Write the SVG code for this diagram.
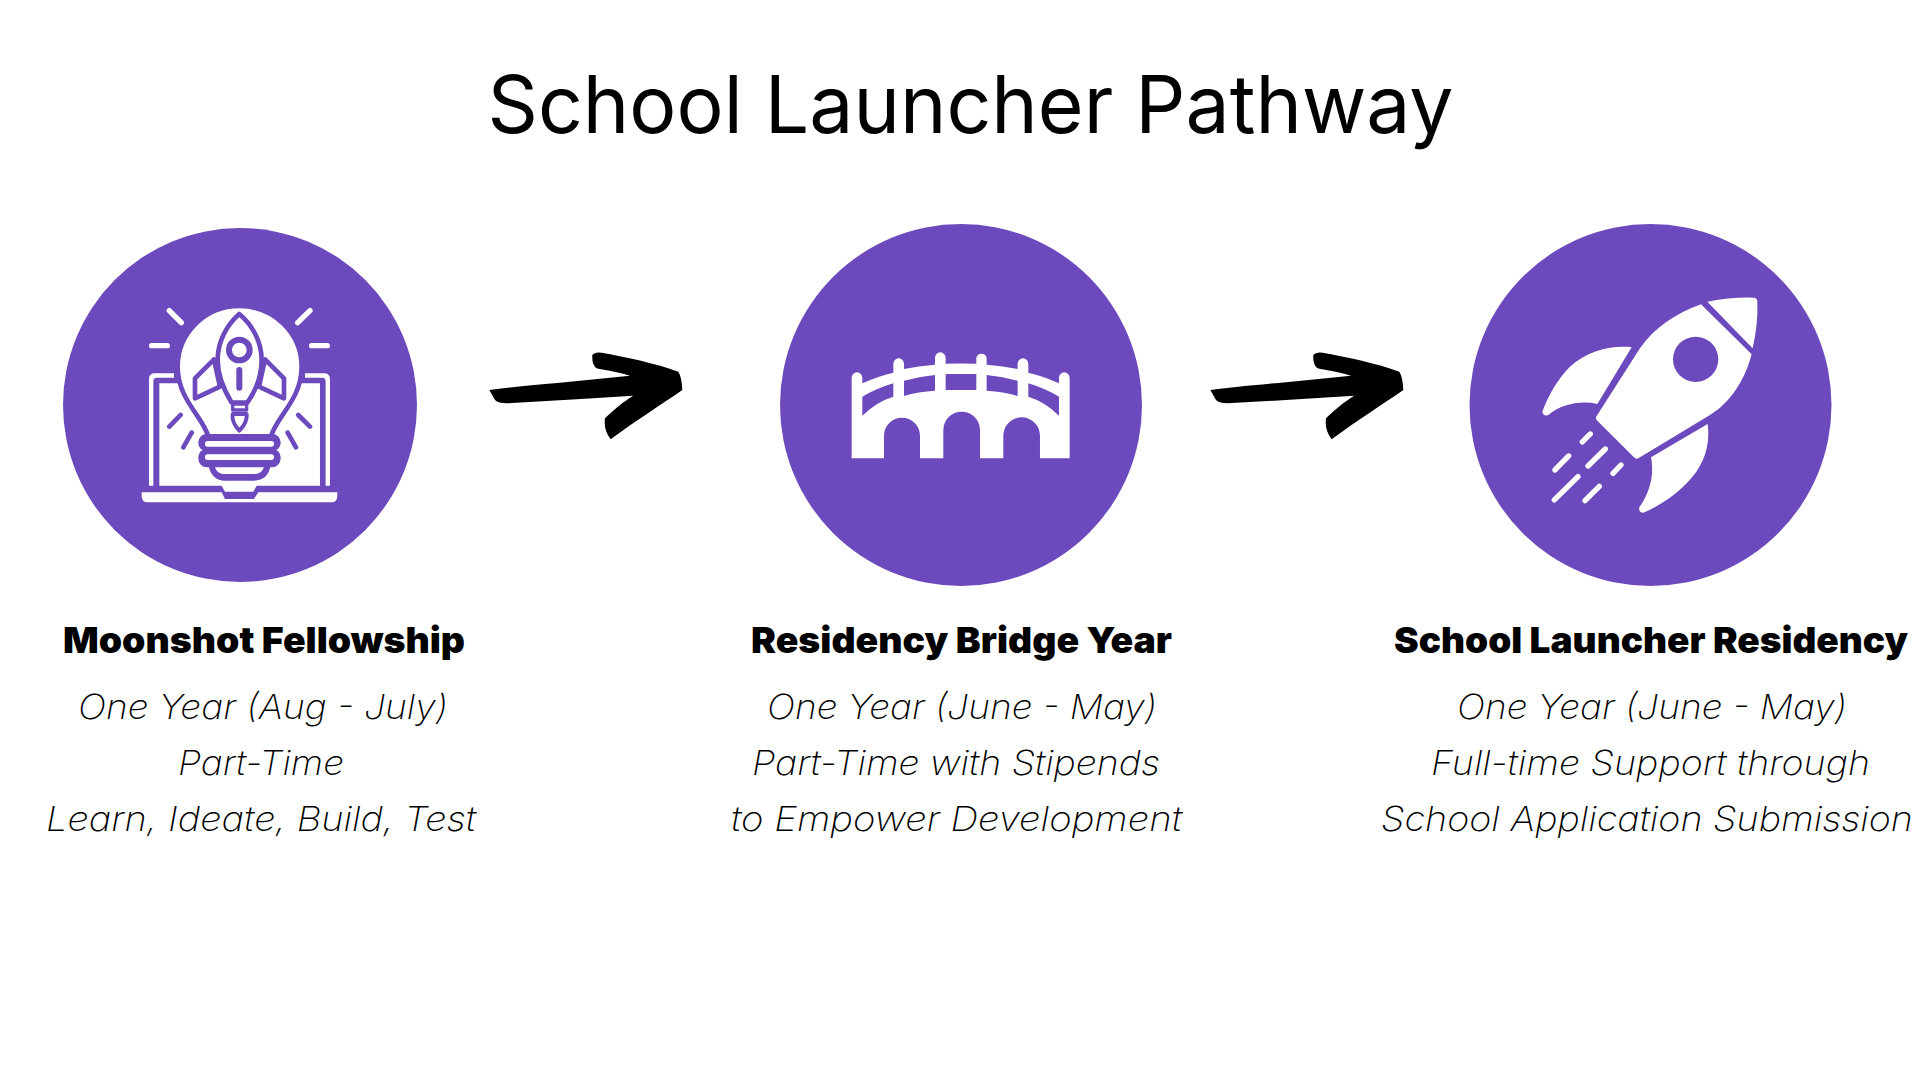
<svg xmlns="http://www.w3.org/2000/svg" width="1920" height="1080" viewBox="0 0 1920 1080">
<style>
.disc{fill:#6c4abd}
.w{fill:#fff}
.p{fill:#6c4abd}
.bs{fill:#fff;stroke:#6c4abd;stroke-linejoin:round}
.pl{fill:none;stroke:#6c4abd;stroke-linecap:round}
.wl{fill:none;stroke:#fff;stroke-linecap:round}
text{fill:#000;font-family:"Inter","Liberation Sans",sans-serif}
.title{font-size:80px;font-weight:400}
.head{font-size:36px;font-weight:900}
.sub{font-size:34.500px;font-weight:200;font-style:italic}
</style>
<defs>
<path id="arrow" d="M28 150Q100 140 240 128L450 107C410 95 370 90 350 85Q335 75 337 45Q345 35 365 38C430 50 530 70 595 95Q605 110 607 150C550 190 470 240 392 298Q370 270 375 235C400 210 430 185 460 167L290 178L80 190Q55 190 45 180Z"/>
</defs>
<rect width="1920" height="1080" fill="#fff"/>
<text class="title" x="487.500" y="133" textLength="966" lengthAdjust="spacingAndGlyphs">School Launcher Pathway</text>

<g id="connectors">
<use href="#arrow" transform="translate(480 340) scale(.3333)"/>
<use href="#arrow" transform="translate(1201 340) scale(.3333)"/>
</g>

<g id="node-moonshot">
<circle class="disc" cx="240" cy="405" r="177"/>
<g transform="translate(40 210) scale(.3333)">
<path class="w" d="M402 490H345Q327 490 327 508V827H340V515Q340 503 350 503H402ZM795 490H852Q870 490 870 508V827H857V515Q857 503 847 503H795Z"/>
<path class="w" d="M358 520H840V827H650L640 845H555L545 827H358Z"/>
<path class="w" d="M305 847H545L555 867H642L655 847H892V860Q890 877 875 877H322Q307 877 305 860Z"/>
<path class="bs" stroke-width="14" d="M505 680C490 620 413 570 413 470C413 370 495 288 598 288C702 288 785 370 785 470C785 570 708 620 693 680Z"/>
<rect class="p" x="475" y="672" width="247" height="52" rx="25"/>
<rect class="p" x="475" y="716" width="247" height="56" rx="26"/>
<path class="p" d="M505 765H692Q685 812 640 812H555Q515 812 505 765Z"/>
<rect class="w" x="495" y="693" width="207" height="17" rx="8"/>
<rect class="w" x="495" y="733" width="207" height="17" rx="8"/>
<path class="w" d="M525 772H672Q665 792 645 792H550Q532 792 525 772Z"/>
<path class="wl" stroke-width="16" d="M388 302L424 338M810 302L773 338M335 407H382M815 407H862"/>
<path class="pl" stroke-width="14" d="M422 615L388 650M455 668L430 712M775 615L810 650M743 668L768 712"/>
<path class="bs" stroke-width="14" d="M522 448L465 505V565L540 530ZM675 448L732 505V565L657 530Z"/>
<path class="bs" stroke-width="14" d="M598 312C560 345 533 395 533 450C533 500 555 545 575 578H622C645 545 665 500 665 450C665 395 637 345 598 312Z"/>
<circle class="bs" cx="598" cy="420" r="31" stroke-width="18"/>
<path class="pl" stroke-width="18" d="M598 480V533"/>
<rect class="bs" x="578" y="582" width="42" height="18" stroke-width="10"/>
<path class="bs" stroke-width="12" d="M578 612H620C622 630 610 650 598 662C586 650 575 630 578 612Z"/>
</g>
</g>

<g id="node-bridge">
<circle class="disc" cx="961" cy="405" r="181"/>
<g transform="translate(780 220) scale(.3333)">
<path class="w" d="M215 715V473A16 16 0 0 1 247 473V490Q290 470 340 458V431A16 16 0 0 1 372 431V447Q415 438 465 434V413A16 16 0 0 1 497 413V431Q545 430 589 431V413A16 16 0 0 1 620 413V434Q670 438 713 447V431A16 16 0 0 1 745 431V458Q795 470 837 490V473A16 16 0 0 1 869 473V715Z"/>
<path class="p" d="M247 530Q290 505 340 490V530Q290 545 247 587ZM372 482Q415 470 465 465V512Q415 515 372 528ZM497 462H589V510H497ZM620 465Q670 470 713 482V528Q670 515 620 512ZM745 490Q795 505 837 530V587Q795 545 745 530Z"/>
<path class="p" d="M312 718V647A54 54 0 0 1 420 647V718ZM490 718V630A55 55 0 0 1 600 630V718ZM670 718V647A55 55 0 0 1 780 647V718Z"/>
</g>
</g>

<g id="node-rocket">
<circle class="disc" cx="1650.500" cy="405" r="181"/>
<g transform="translate(1470 220) scale(.3333)">
<path class="w" d="M712 245Q790 230 853 233Q862 235 862 245Q865 310 848 385Z"/>
<path class="w" d="M693 253L845 403C825 480 780 550 720 585L505 715Q498 718 492 712L382 602Q375 595 380 588L510 385C555 320 620 280 693 253Z"/>
<circle class="p" cx="677" cy="418" r="68"/>
<path class="w" d="M485 382C420 375 350 395 300 440C265 475 235 525 217 575Q220 590 235 585C270 555 330 540 382 552Z"/>
<path class="w" d="M713 612C722 680 700 740 650 790C610 830 565 860 520 878Q505 878 508 862C535 825 555 770 543 712Z"/>
<path class="wl" stroke-width="16" d="M337 666L361 642M255 750L296 708M354 738L406 687M429 760L453 735M253 840L324 770M345 842L388 799"/>
</g>
</g>

<g id="label-moonshot">
<text class="head" x="63" y="653" textLength="402" lengthAdjust="spacingAndGlyphs">Moonshot Fellowship</text>
<text class="sub" x="78" y="719" textLength="370" lengthAdjust="spacingAndGlyphs">One Year (Aug - July)</text>
<text class="sub" x="178" y="775" textLength="166" lengthAdjust="spacingAndGlyphs">Part-Time</text>
<text class="sub" x="46" y="831" textLength="430" lengthAdjust="spacingAndGlyphs">Learn, Ideate, Build, Test</text>
</g>
<g id="label-bridge">
<text class="head" x="751" y="653" textLength="421" lengthAdjust="spacingAndGlyphs">Residency Bridge Year</text>
<text class="sub" x="767" y="719" textLength="390" lengthAdjust="spacingAndGlyphs">One Year (June - May)</text>
<text class="sub" x="752" y="775" textLength="408" lengthAdjust="spacingAndGlyphs">Part-Time with Stipends</text>
<text class="sub" x="731" y="831" textLength="451" lengthAdjust="spacingAndGlyphs">to Empower Development</text>
</g>
<g id="label-residency">
<text class="head" x="1394" y="653" textLength="514" lengthAdjust="spacingAndGlyphs">School Launcher Residency</text>
<text class="sub" x="1457" y="719" textLength="390" lengthAdjust="spacingAndGlyphs">One Year (June - May)</text>
<text class="sub" x="1431" y="775" textLength="439" lengthAdjust="spacingAndGlyphs">Full-time Support through</text>
<text class="sub" x="1381" y="831" textLength="532" lengthAdjust="spacingAndGlyphs">School Application Submission</text>
</g>
</svg>
